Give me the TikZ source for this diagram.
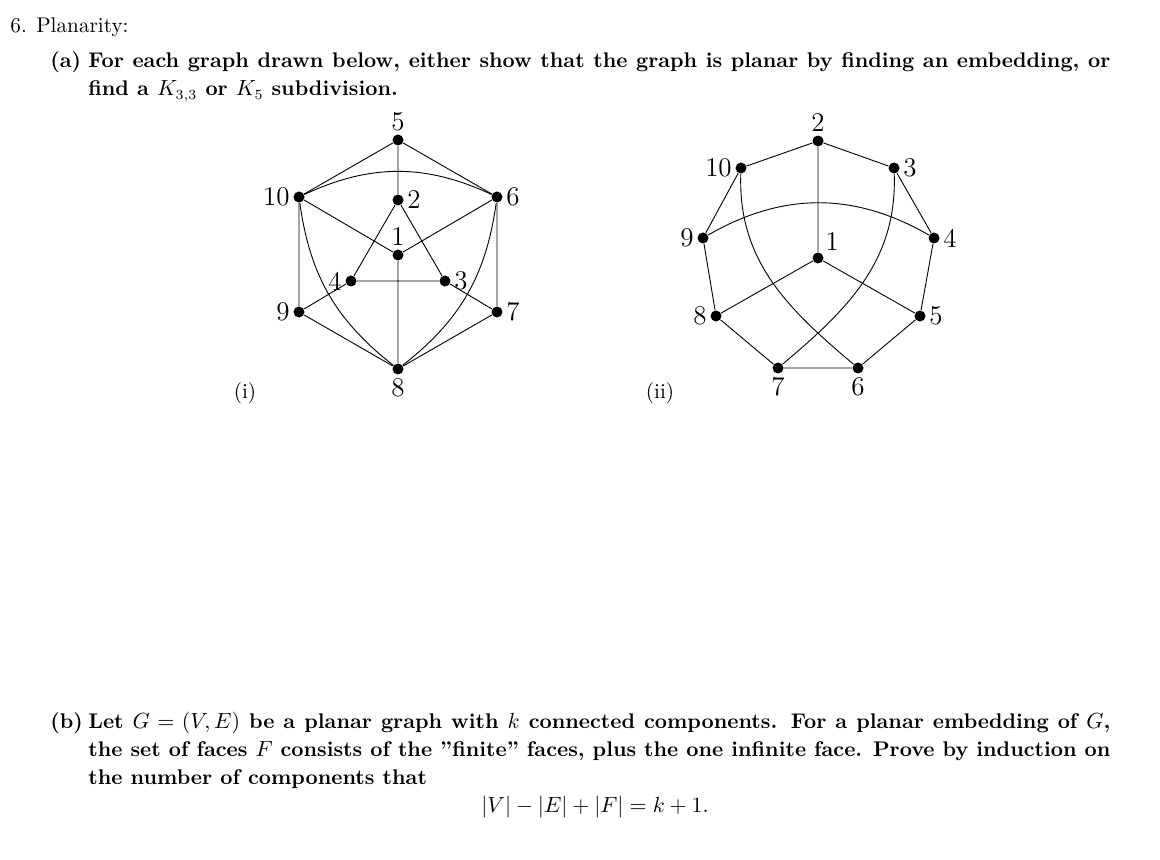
\documentclass[tikz,border=0pt]{standalone}
\usepackage{amsmath}
\begin{document}
\begin{tikzpicture}[x=0.5pt,y=-0.5pt,
  v/.style={circle,fill=black,inner sep=0pt,minimum size=5.5pt},
  lab/.style={font=\fontsize{13.5}{15}\selectfont,inner sep=1.5pt},
  e/.style={line width=0.45pt},
  body/.style={font=\fontsize{10.6}{14}\selectfont\bfseries}]
\useasboundingbox (0,0) rectangle (1160,860);
\node[anchor=base west,inner sep=0pt,font=\fontsize{10.6}{14}\selectfont] (t) at (10,33) {6. Planarity:};
\node[anchor=base west,inner sep=0pt,body] (la) at (50,68) {(a)};
\node[anchor=base west,inner sep=0pt,body,text width=511pt,align=justify] (ta) at (88,68) {For each graph drawn below, either show that the graph is planar by finding an embedding, or find a $K_{3,3}$ or $K_5$ subdivision.};
% graph (i)
\foreach \n/\x/\y in {5/398/140,10/299/197,2/398/200,6/497/197,1/398/255,4/351/281,3/445/281,9/299/312,7/497/312,8/398/369}
  \node[v] (a\n) at (\x,\y) {};
\node[lab,above] at (a5.north) {5};
\node[lab,left] at (a10.west) {10};
\node[lab,right] at (a2.east) {2};
\node[lab,right] at (a6.east) {6};
\node[lab,above] at (a1.north) {1};
\node[lab,left] at (a4.west) {4};
\node[lab,right] at (a3.east) {3};
\node[lab,left] at (a9.west) {9};
\node[lab,right] at (a7.east) {7};
\node[lab,below] at (a8.south) {8};
\draw[e] (a5)--(a10) (a5)--(a6) (a5)--(a2) (a10)--(a9) (a10)--(a1) (a6)--(a1) (a6)--(a7)
  (a2)--(a4) (a2)--(a3) (a4)--(a3) (a1)--(a8) (a4)--(a9) (a3)--(a7) (a9)--(a8) (a7)--(a8);
\draw[e] (a10) to[bend left=25] (a6);
\draw[e] (a10) to[bend right=22] (a8);
\draw[e] (a6) to[bend left=22] (a8);
\node[anchor=base,font=\fontsize{10.6}{14}\selectfont] (li) at (245,399) {(i)};
% graph (ii)
\foreach \n/\x/\y in {2/818/141,10/741/168,3/894/168,9/703/238,4/934/238,1/818/258,8/716/316,5/920/316,7/778/368,6/858/368}
  \node[v] (b\n) at (\x,\y) {};
\node[lab,above] at (b2.north) {2};
\node[lab,left] at (b10.west) {10};
\node[lab,right] at (b3.east) {3};
\node[lab,left] at (b9.west) {9};
\node[lab,right] at (b4.east) {4};
\node[lab,above right] at (b1.north east) {1};
\node[lab,left] at (b8.west) {8};
\node[lab,right] at (b5.east) {5};
\node[lab,below] at (b7.south) {7};
\node[lab,below] at (b6.south) {6};
\draw[e] (b2)--(b10) (b2)--(b3) (b2)--(b1) (b10)--(b9) (b3)--(b4) (b9)--(b8) (b4)--(b5)
  (b1)--(b8) (b1)--(b5) (b8)--(b7) (b5)--(b6) (b7)--(b6);
\draw[e] (b9) to[bend left=30] (b4);
\draw[e] (b10) to[out=-92,in=140] (b6);
\draw[e] (b3) to[out=-88,in=40] (b7);
\node[anchor=base,font=\fontsize{10.6}{14}\selectfont] (lii) at (660,399) {(ii)};
% part (b)
\node[anchor=base west,inner sep=0pt,body] (lb) at (50,728) {(b)};
\node[anchor=base west,inner sep=0pt,body,text width=511pt,align=justify] (tb) at (88,728) {Let $G=(V,E)$ be a planar graph with $k$ connected components. For a planar embedding of $G$, the set of faces $F$ consists of the "finite" faces, plus the one infinite face. Prove by induction on the number of components that};
\node[anchor=base,inner sep=0pt,font=\fontsize{10.6}{14}\selectfont] (eq) at (595,812) {$|V|-|E|+|F|=k+1.$};
\end{tikzpicture}
\end{document}
